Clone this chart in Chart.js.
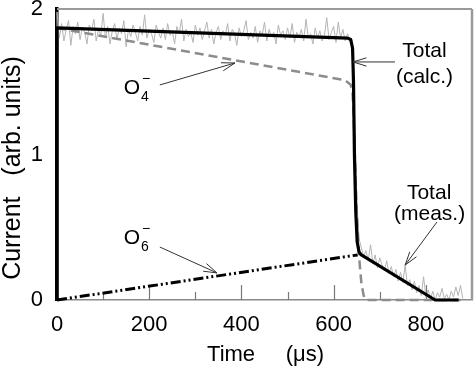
<!DOCTYPE html>
<html>
<head>
<meta charset="utf-8">
<script src="https://cdn.jsdelivr.net/npm/chart.js@4.4.0/dist/chart.umd.min.js"></script>
<style>
html, body { margin:0; padding:0; background:#fff; }
#wrap { width:474px; height:376px; position:relative; }
</style>
</head>
<body>
<div id="wrap"><canvas id="grafico"></canvas></div>
<script>
const xTicks = [0, 200, 400, 600, 800];
const xMinorTicks = [100, 300, 500, 700];
const yTicks = [0, 1, 2];

// Total (meas.) : one sample every 5 us, starting at t = 0
const measStep = 5;
const measValues = [
    1.98, 1.80, 1.90, 1.78, 1.86, 1.92, 1.75, 1.88, 1.83, 1.91,
    1.79, 1.87, 1.84, 1.76, 1.89, 1.85, 1.93, 1.78, 1.86, 1.82,
    1.97, 1.80, 1.88, 1.76, 1.85, 1.90, 1.79, 1.87, 1.83, 1.92,
    1.74, 1.86, 1.81, 1.89, 1.84, 1.78, 1.88, 1.82, 1.96, 1.80,
    1.86, 1.83, 1.77, 1.89, 1.84, 1.80, 1.87, 1.79, 1.90, 1.82,
    1.85, 1.76, 1.88, 1.83, 1.93, 1.78, 1.86, 1.81, 1.84, 1.77,
    1.89, 1.82, 1.87, 1.79, 1.85, 1.91, 1.80, 1.86, 1.76, 1.84,
    1.88, 1.79, 1.85, 1.82, 1.90, 1.78, 1.86, 1.83, 1.75, 1.87,
    1.81, 1.85, 1.92, 1.79, 1.84, 1.80, 1.88, 1.77, 1.85, 1.82,
    1.91, 1.78, 1.86, 1.81, 1.84, 1.76, 1.89, 1.82, 1.85, 1.79,
    1.87, 1.80, 1.90, 1.77, 1.84, 1.81, 1.86, 1.78, 1.93, 1.80,
    1.83, 1.76, 1.87, 1.80, 1.85, 1.78, 1.82, 1.94, 1.79, 1.84,
    1.88, 1.77, 1.91, 1.80, 1.86, 1.78, 1.83, 1.79, 1.75, 1.30,
    0.70, 0.42, 0.36, 0.30, 0.34, 0.27, 0.38, 0.25, 0.31, 0.22,
    0.29, 0.24, 0.20, 0.27, 0.18, 0.23, 0.16, 0.21, 0.13, 0.19,
    0.12, 0.24, 0.10, 0.14, 0.07, 0.13, 0.05, 0.10, 0.03, 0.16,
    0.02, 0.07, 0.01, 0.06, 0.00, 0.05, 0.02, 0.08, 0.01, 0.04,
    0.00, 0.06, 0.02, 0.09, 0.03, 0.10, 0.01
];

// Total (calc.)
const calcTime   = [0, 0, 630, 637, 641, 643, 645, 648, 651, 655, 660, 820, 871];
const calcValues = [0, 1.87, 1.80, 1.79, 1.73, 1.50, 1.00, 0.60, 0.40, 0.33, 0.31, 0, 0];

// O4-
const o4Time   = [0, 625, 637, 641, 643, 646, 650, 655, 660, 665, 671, 880];
const o4Values = [1.87, 1.51, 1.48, 1.42, 1.30, 1.00, 0.60, 0.30, 0.12, 0.03, 0, 0];

// O6-
const o6Time   = [0, 652];
const o6Values = [0, 0.31];

// annotations (data units)
const textNotes = [
    { text: 'Total',   t: 797, v: 1.71 },
    { text: '(calc.)', t: 797, v: 1.53 },
    { text: 'Total',   t: 807, v: 0.735 },
    { text: '(meas.)', t: 808, v: 0.59 }
];
const ionNotes = [
    { sub: '4', t: 180, v: 1.457 },
    { sub: '6', t: 180, v: 0.426 }
];
const arrowNotes = [
    { from: [733, 1.636], to: [642, 1.636] },
    { from: [223, 1.478], to: [386, 1.629] },
    { from: [223, 0.364], to: [347, 0.186] },
    { from: [824, 0.536], to: [755, 0.24] }
];

const fuente = "'Liberation Sans', Arial, sans-serif";

function puntos(ts, vs){
    return ts.map((t, i) => ({ x: t, y: vs[i] }));
}
const measData = [{ x: 0, y: 0 }].concat(measValues.map((v, i) => ({ x: i * measStep, y: v })));

function flecha(ctx, x1, y1, x2, y2){
    const ang = Math.atan2(y2 - y1, x2 - x1);
    const len = 14, abre = 0.3;
    ctx.beginPath();
    ctx.moveTo(x1, y1);
    ctx.lineTo(x2, y2);
    ctx.moveTo(x2 - len * Math.cos(ang - abre), y2 - len * Math.sin(ang - abre));
    ctx.lineTo(x2, y2);
    ctx.lineTo(x2 - len * Math.cos(ang + abre), y2 - len * Math.sin(ang + abre));
    ctx.stroke();
}

const extras = {
    id: 'extras',
    beforeDatasetsDraw(chart){
        const ctx = chart.ctx, a = chart.chartArea;
        const xs = chart.scales.x;
        ctx.save();
        // frame top and right
        ctx.strokeStyle = '#9a9a9a';
        ctx.lineWidth = 2;
        ctx.beginPath();
        ctx.moveTo(a.left, a.top);
        ctx.lineTo(a.right, a.top);
        ctx.stroke();
        ctx.lineWidth = 2.5;
        ctx.beginPath();
        ctx.moveTo(a.right, a.top);
        ctx.lineTo(a.right, a.bottom);
        ctx.stroke();
        // inward ticks
        ctx.strokeStyle = '#777';
        ctx.lineWidth = 1.2;
        xTicks.slice(1).forEach(t => {
            const px = Math.round(xs.getPixelForValue(t)) + 0.5;
            ctx.beginPath(); ctx.moveTo(px, a.bottom); ctx.lineTo(px, a.bottom - 15); ctx.stroke();
        });
        xMinorTicks.forEach(t => {
            const px = Math.round(xs.getPixelForValue(t)) + 0.5;
            ctx.beginPath(); ctx.moveTo(px, a.bottom); ctx.lineTo(px, a.bottom - 8); ctx.stroke();
        });
        ctx.restore();
    },
    afterDraw(chart){
        const ctx = chart.ctx, a = chart.chartArea;
        const xs = chart.scales.x, ys = chart.scales.y;
        ctx.save();
        ctx.fillStyle = '#000';
        // axis titles
        ctx.font = '22px ' + fuente;
        ctx.textAlign = 'center';
        ctx.textBaseline = 'middle';
        ctx.fillText('Time     (\u03bcs)', (a.left + a.right) / 2 + 1, 355);
        ctx.save();
        ctx.translate(13, 168);
        ctx.rotate(-Math.PI / 2);
        ctx.font = '25px ' + fuente;
        ctx.fillText('Current   (arb. units)', 0, 0);
        ctx.restore();
        // notes
        ctx.font = '21px ' + fuente;
        textNotes.forEach(n => {
            ctx.fillText(n.text, xs.getPixelForValue(n.t), ys.getPixelForValue(n.v));
        });
        ionNotes.forEach(n => {
            const x = xs.getPixelForValue(n.t), y = ys.getPixelForValue(n.v);
            ctx.font = '21px ' + fuente;
            ctx.textAlign = 'right';
            ctx.fillText('O', x, y);
            ctx.textAlign = 'left';
            ctx.font = '14px ' + fuente;
            ctx.fillText(n.sub, x + 1, y + 9);
            ctx.fillText('\u2212', x + 2, y - 9);
        });
        ctx.strokeStyle = '#333';
        ctx.lineWidth = 1;
        arrowNotes.forEach(f => {
            flecha(ctx, xs.getPixelForValue(f.from[0]), ys.getPixelForValue(f.from[1]),
                        xs.getPixelForValue(f.to[0]), ys.getPixelForValue(f.to[1]));
        });
        ctx.restore();
    }
};

new Chart(document.getElementById('grafico'), {
    type: 'line',
    data: {
        datasets: [
            {
                label: 'Total (calc.)',
                data: puntos(calcTime, calcValues),
                borderColor: '#000',
                borderWidth: 3.2,
                order: 1
            },
            {
                label: 'O6-',
                data: puntos(o6Time, o6Values),
                borderColor: '#000',
                borderWidth: 3,
                borderDash: [10, 3, 2, 3, 2, 3],
                order: 2
            },
            {
                label: 'O4-',
                data: puntos(o4Time, o4Values),
                borderColor: '#8c8c8c',
                borderWidth: 2.5,
                borderDash: [9, 5],
                order: 3
            },
            {
                label: 'Total (meas.)',
                data: measData,
                borderColor: '#b4b4b4',
                borderWidth: 1,
                order: 4
            }
        ]
    },
    plugins: [extras],
    options: {
        responsive: true,
        maintainAspectRatio: false,
        animation: false,
        layout: { padding: { top: 9, right: 2, left: 0, bottom: 0 } },
        elements: {
            point: { radius: 0 },
            line: { tension: 0, borderJoinStyle: 'round', borderCapStyle: 'butt' }
        },
        datasets: { line: { clip: 6 } },
        plugins: {
            legend: { display: false },
            tooltip: { enabled: false }
        },
        scales: {
            x: {
                type: 'linear',
                min: 0,
                max: 900,
                afterBuildTicks: s => { s.ticks = xTicks.map(v => ({ value: v })); },
                afterFit: s => { s.height = 76; s.paddingLeft = 0; s.paddingRight = 0; },
                grid: { display: false, drawTicks: false },
                border: { display: true, color: '#8a8a8a', width: 1.5 },
                ticks: { color: '#000', padding: 12, maxRotation: 0, font: { family: fuente, size: 22 } }
            },
            y: {
                min: 0,
                max: 2,
                afterBuildTicks: s => { s.ticks = yTicks.map(v => ({ value: v })); },
                afterFit: s => { s.width = 57; s.paddingTop = 0; s.paddingBottom = 0; },
                grid: { display: false, drawTicks: false },
                border: { display: true, color: '#000', width: 3.5 },
                ticks: { color: '#000', padding: 14, font: { family: fuente, size: 22 } }
            }
        }
    }
});
</script>
</body>
</html>
